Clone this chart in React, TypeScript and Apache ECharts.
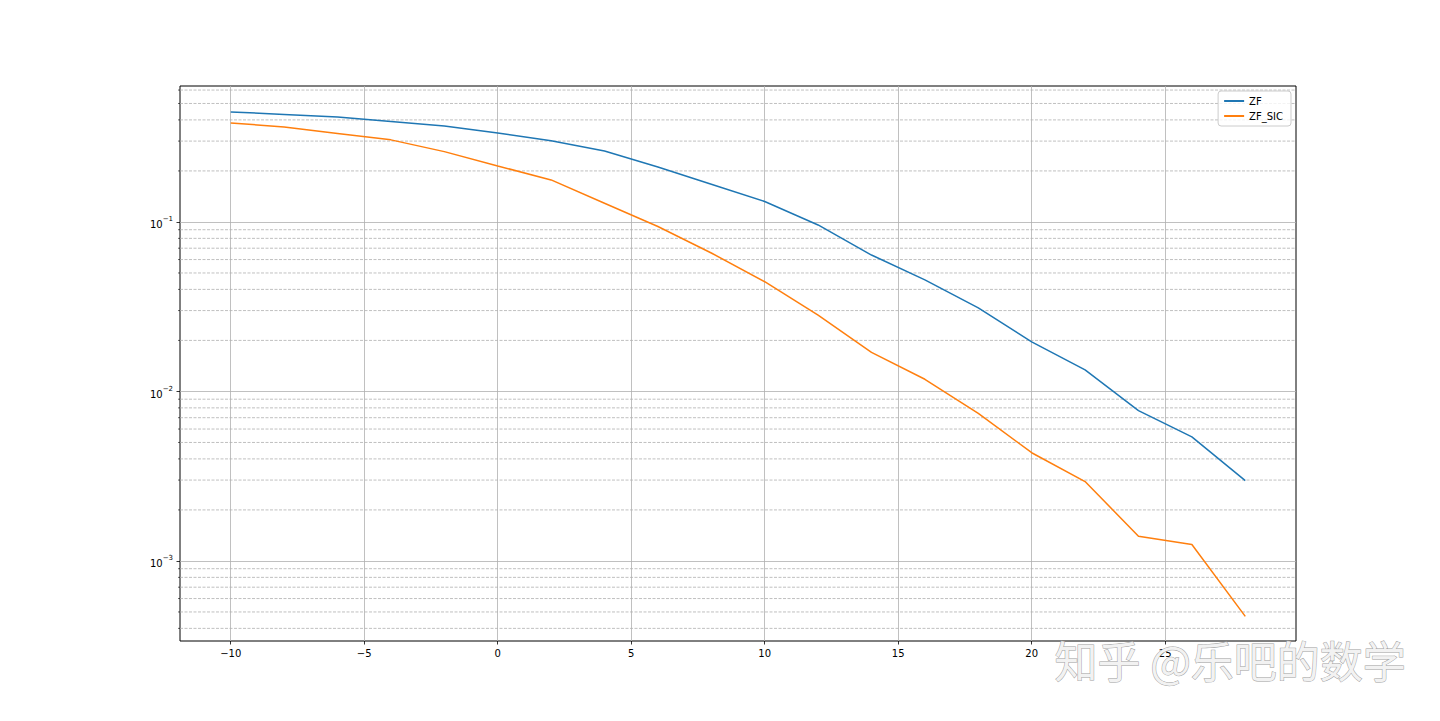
import React, { useEffect, useRef } from "react";
import * as echarts from "echarts";

const xValues = [-10, -8, -6, -4, -2, 0, 2, 4, 6, 8, 10, 12, 14, 16, 18, 20, 22, 24, 26, 28];
const zfValues = [0.446, 0.431, 0.416, 0.392, 0.368, 0.335, 0.301, 0.262, 0.211, 0.167, 0.132, 0.096, 0.0638, 0.0455, 0.0311, 0.0196, 0.0134, 0.0077, 0.0054, 0.00298];
const zfSicValues = [0.384, 0.363, 0.333, 0.305, 0.26, 0.214, 0.177, 0.129, 0.094, 0.0656, 0.0444, 0.0282, 0.017, 0.0118, 0.00743, 0.00435, 0.00294, 0.0014, 0.00125, 0.000471];
const xTickLabels = [-10, -5, 0, 5, 10, 15, 20, 25];
const yMajorTicks = [0.001, 0.01, 0.1];
const yMinorTicks = [
  0.0004, 0.0005, 0.0006, 0.0007, 0.0008, 0.0009,
  0.002, 0.003, 0.004, 0.005, 0.006, 0.007, 0.008, 0.009,
  0.02, 0.03, 0.04, 0.05, 0.06, 0.07, 0.08, 0.09,
  0.2, 0.3, 0.4, 0.5, 0.6,
];

const X_MIN = -11.9;
const X_MAX = 29.9;
const Y_MIN = 3.37e-4;
const Y_MAX = 0.634;

const FONT = "DejaVu Sans";

export default function App() {
  const ref = useRef<HTMLDivElement>(null);
  useEffect(() => {
    if (!ref.current) return;
    const chart = echarts.init(ref.current, undefined, { renderer: "svg" });
    const fmtY = (v: number) => {
      const e = Math.round(Math.log10(v));
      if (Math.abs(Math.log10(v) - e) > 1e-6) return "";
      return "{b|10}{s|" + String(e).replace("-", "\u2212") + "}";
    };
    chart.setOption({
      animation: false,
      backgroundColor: "#ffffff",
      grid: {
        left: 180,
        top: 86,
        right: 144,
        bottom: 80,
        show: true,
        borderColor: "#000000",
        borderWidth: 1,
        backgroundColor: "transparent",
      },
      legend: {
        data: ["ZF", "ZF_SIC"],
        orient: "vertical",
        right: 149,
        top: 91,
        itemWidth: 20,
        itemHeight: 2,
        itemGap: 5,
        icon: "rect",
        padding: [5, 8, 5, 6],
        backgroundColor: "rgba(255,255,255,0.8)",
        borderColor: "#cccccc",
        borderWidth: 1,
        borderRadius: 3,
        textStyle: { fontFamily: FONT, fontSize: 10, color: "#000" },
      },
      xAxis: {
        type: "value",
        min: X_MIN,
        max: X_MAX,
        axisLine: { show: false, onZero: false },
        axisTick: {
          show: true,
          length: 3.5,
          lineStyle: { color: "#000", width: 0.8 },
          customValues: xTickLabels,
        },
        axisLabel: {
          margin: 7,
          fontFamily: FONT,
          fontSize: 10,
          color: "#000",
          customValues: xTickLabels,
          formatter: (v: number) => String(v).replace("-", "\u2212"),
        },
        splitLine: { show: true, lineStyle: { color: "#b0b0b0", width: 0.8 } },
      },
      yAxis: {
        type: "log",
        logBase: 10,
        min: Y_MIN,
        max: Y_MAX,
        axisLine: { show: false, onZero: false },
        axisTick: {
          show: true,
          length: 3.5,
          lineStyle: { color: "#000", width: 0.8 },
          customValues: yMajorTicks,
        },
        axisLabel: {
          margin: 7,
          color: "#000",
          customValues: yMajorTicks,
          formatter: fmtY,
          rich: {
            b: { fontFamily: FONT, fontSize: 10, color: "#000", padding: [6, 0, 0, 0] },
            s: { fontFamily: FONT, fontSize: 7, color: "#000", padding: [0, 0, 5, 0] },
          },
        },
        splitLine: { show: true, lineStyle: { color: "#b0b0b0", width: 0.8 } },
      },
      series: [
        {
          name: "minor",
          type: "custom",
          silent: true,
          clip: false,
          z: 1,
          encode: { x: 0, y: 1 },
          data: yMinorTicks.map((v) => [X_MIN, v]),
          renderItem: (params: any, api: any) => {
            const p = api.coord([X_MIN, api.value(1)]);
            const cs = params.coordSys;
            return {
              type: "group",
              children: [
                {
                  type: "line",
                  shape: { x1: cs.x, y1: p[1], x2: cs.x + cs.width, y2: p[1] },
                  style: { stroke: "#b0b0b0", lineWidth: 0.8, lineDash: [3, 1.5] },
                },
                {
                  type: "line",
                  shape: { x1: cs.x - 2, y1: p[1], x2: cs.x, y2: p[1] },
                  style: { stroke: "#000", lineWidth: 0.6 },
                },
              ],
            };
          },
        },
        {
          name: "ZF",
          type: "line",
          z: 3,
          showSymbol: false,
          symbol: "none",
          color: "#1f77b4",
          lineStyle: { color: "#1f77b4", width: 1.5 },
          data: xValues.map((x, i) => [x, zfValues[i]]),
        },
        {
          name: "ZF_SIC",
          type: "line",
          z: 3,
          showSymbol: false,
          symbol: "none",
          color: "#ff7f0e",
          lineStyle: { color: "#ff7f0e", width: 1.5 },
          data: xValues.map((x, i) => [x, zfSicValues[i]]),
        },
      ],
      graphic: [
        {
          type: "text",
          z: 100,
          left: 1054,
          top: 637,
          style: {
            text: "知乎 @乐吧的数学",
            fontFamily: "Noto Sans CJK SC",
            fontSize: 43,
            fill: "#f2f2f2",
            stroke: "#a0a0a0",
            lineWidth: 1,
          },
        },
      ],
    });
    return () => chart.dispose();
  }, []);
  return <div ref={ref} style={{ width: 1440, height: 721, margin: -8 }} />;
}
